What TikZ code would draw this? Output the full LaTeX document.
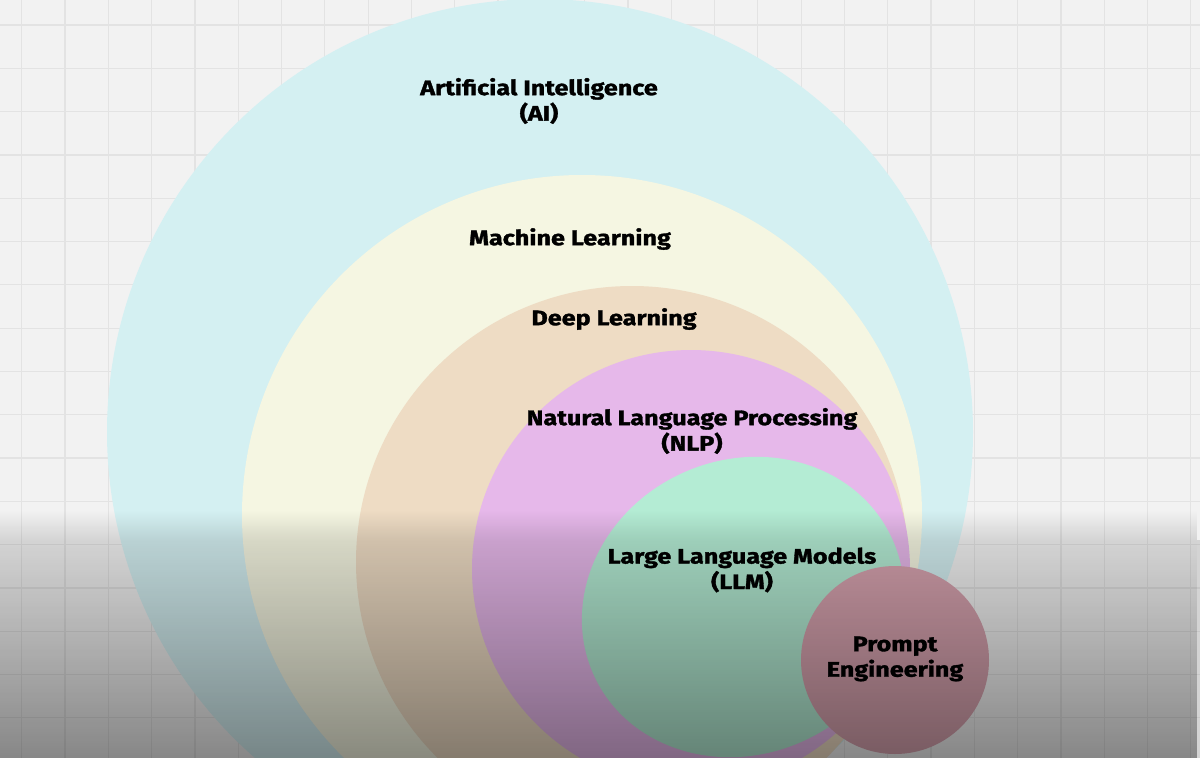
\documentclass[tikz,border=0pt]{standalone}
\usepackage{fontspec}
\setmainfont{Fira Sans}[FakeStretch=1.2, BoldFeatures={FakeBold=1.5}]
\usetikzlibrary{fadings}
\definecolor{bgc}{HTML}{F2F2F2}
\definecolor{gridc}{HTML}{E3E3E3}
\definecolor{aic}{HTML}{D4F0F2}
\definecolor{mlc}{HTML}{F5F6E2}
\definecolor{dlc}{HTML}{EEDCC4}
\definecolor{nlpc}{HTML}{E6B8EA}
\definecolor{llmc}{HTML}{B4ECD4}
\definecolor{pec}{HTML}{D8A3B0}
\tikzset{
  lbl/.style={font=\fontsize{21}{25.5}\selectfont\bfseries, align=center, text=black, inner sep=0pt},
}
\begin{document}
\begin{tikzpicture}[x=1pt,y=-1pt]
\useasboundingbox (0,0) rectangle (1200,758);
\fill[bgc] (0,0) rectangle (1200,758);
\foreach \i in {0,...,28} {\draw[gridc,line width=1.2pt] (21.7+43.3*\i,0) -- (21.7+43.3*\i,758);}
\foreach \j in {0,...,17} {\draw[gridc,line width=1.2pt] (0,25+43.3*\j) -- (1200,25+43.3*\j);}
% circles
\fill[aic] (540,432) circle[radius=433pt];
\fill[mlc] (582,515) circle[radius=340pt];
\fill[dlc] (632,562) circle[radius=276pt];
\fill[nlpc] (691,569) circle[radius=219pt];
\fill[llmc, rotate around={25:(743,607)}] (743,607) ellipse[x radius=164pt, y radius=147pt];
\fill[pec] (895,660) circle[radius=94pt];
% labels
\node[lbl] (ai) at (539,101) {Artificial Intelligence\\(AI)};
\node[lbl] (ml) at (570,239) {Machine Learning};
\node[lbl] (dl) at (614,319) {Deep Learning};
\node[lbl] (nlp) at (692,431) {Natural Language Processing\\(NLP)};
\node[lbl] (llm) at (742,570) {Large Language Models\\(LLM)};
\node[lbl] (pe) at (895,659) {Prompt\\Engineering};
% bottom darkening
\fill[black, path fading=north, fill opacity=0.12] (0,510) rectangle (1200,540);
\fill[black, fill opacity=0.12] (0,540) rectangle (1200,758);
\fill[black, path fading=north, fill opacity=0.36] (0,540) rectangle (1200,758);
\end{tikzpicture}
\end{document}
